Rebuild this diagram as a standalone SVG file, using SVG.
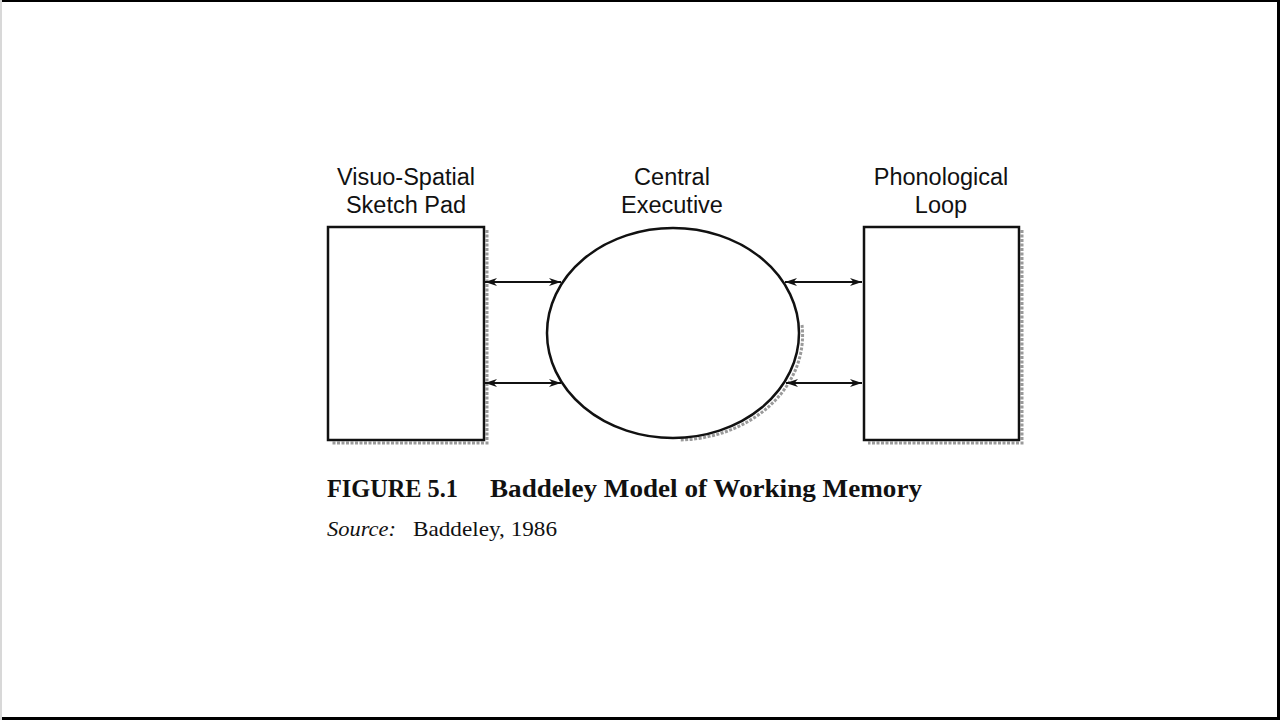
<svg xmlns="http://www.w3.org/2000/svg" width="1280" height="720" viewBox="0 0 1280 720">
<defs>
<marker id="ah" viewBox="0 0 12 10" refX="12" refY="5" markerWidth="12" markerHeight="10" markerUnits="userSpaceOnUse" orient="auto-start-reverse">
<path d="M0,1 L12,5 L0,9 L3.5,5 Z" fill="#111"/>
</marker>
</defs>
<style>
.box{fill:#fff;stroke:#111;stroke-width:2.5}
.shadow{fill:none;stroke:#9a9a9a;stroke-width:3;stroke-dasharray:3 1.5}
.lbl{font-family:"Liberation Sans",Arial,sans-serif;font-size:23.5px;fill:#111;text-anchor:middle}
.conn{stroke:#111;stroke-width:1.8;fill:none;marker-start:url(#ah);marker-end:url(#ah)}
.cap{font-family:"Liberation Serif","Times New Roman",serif;fill:#111}
</style>
<rect width="1280" height="720" fill="#fff"/>
<rect x="0" y="0" width="1280" height="2" fill="#000"/>
<rect x="0" y="717" width="1280" height="3" fill="#000"/>
<rect x="1277" y="0" width="3" height="720" fill="#000"/>
<rect x="0" y="0" width="2" height="720" fill="#d8d8d8"/>

<g id="visuo-spatial">
<path class="shadow" d="M487,230 V443 H332"/>
<rect class="box" x="328" y="227" width="156" height="213"/>
<text class="lbl" x="406" y="185">Visuo-Spatial</text>
<text class="lbl" x="406" y="213">Sketch Pad</text>
</g>

<g id="central-executive">
<path class="shadow" d="M802,325 A126,105 0 0 1 680,440"/>
<ellipse class="box" cx="673" cy="333" rx="126" ry="105"/>
<text class="lbl" x="672" y="185">Central</text>
<text class="lbl" x="672" y="213">Executive</text>
</g>

<g id="phonological-loop">
<path class="shadow" d="M1022,230 V443 H868"/>
<rect class="box" x="864" y="227" width="155" height="213"/>
<text class="lbl" x="941" y="185">Phonological</text>
<text class="lbl" x="941" y="213">Loop</text>
</g>

<g id="connectors">
<line class="conn" x1="485" y1="282" x2="561" y2="282"/>
<line class="conn" x1="485" y1="383" x2="561" y2="383"/>
<line class="conn" x1="785" y1="282" x2="862" y2="282"/>
<line class="conn" x1="786" y1="383" x2="862" y2="383"/>
</g>

<g id="caption">
<text class="cap" x="327" y="497" font-size="25" font-weight="bold" textLength="131" lengthAdjust="spacingAndGlyphs">FIGURE 5.1</text>
<text class="cap" x="490" y="497" font-size="25" font-weight="bold" textLength="432" lengthAdjust="spacingAndGlyphs">Baddeley Model of Working Memory</text>
<text class="cap" x="327" y="536" font-size="22" font-style="italic" textLength="69" lengthAdjust="spacingAndGlyphs">Source:</text>
<text class="cap" x="413" y="536" font-size="22" textLength="144" lengthAdjust="spacingAndGlyphs">Baddeley, 1986</text>
</g>
</svg>
